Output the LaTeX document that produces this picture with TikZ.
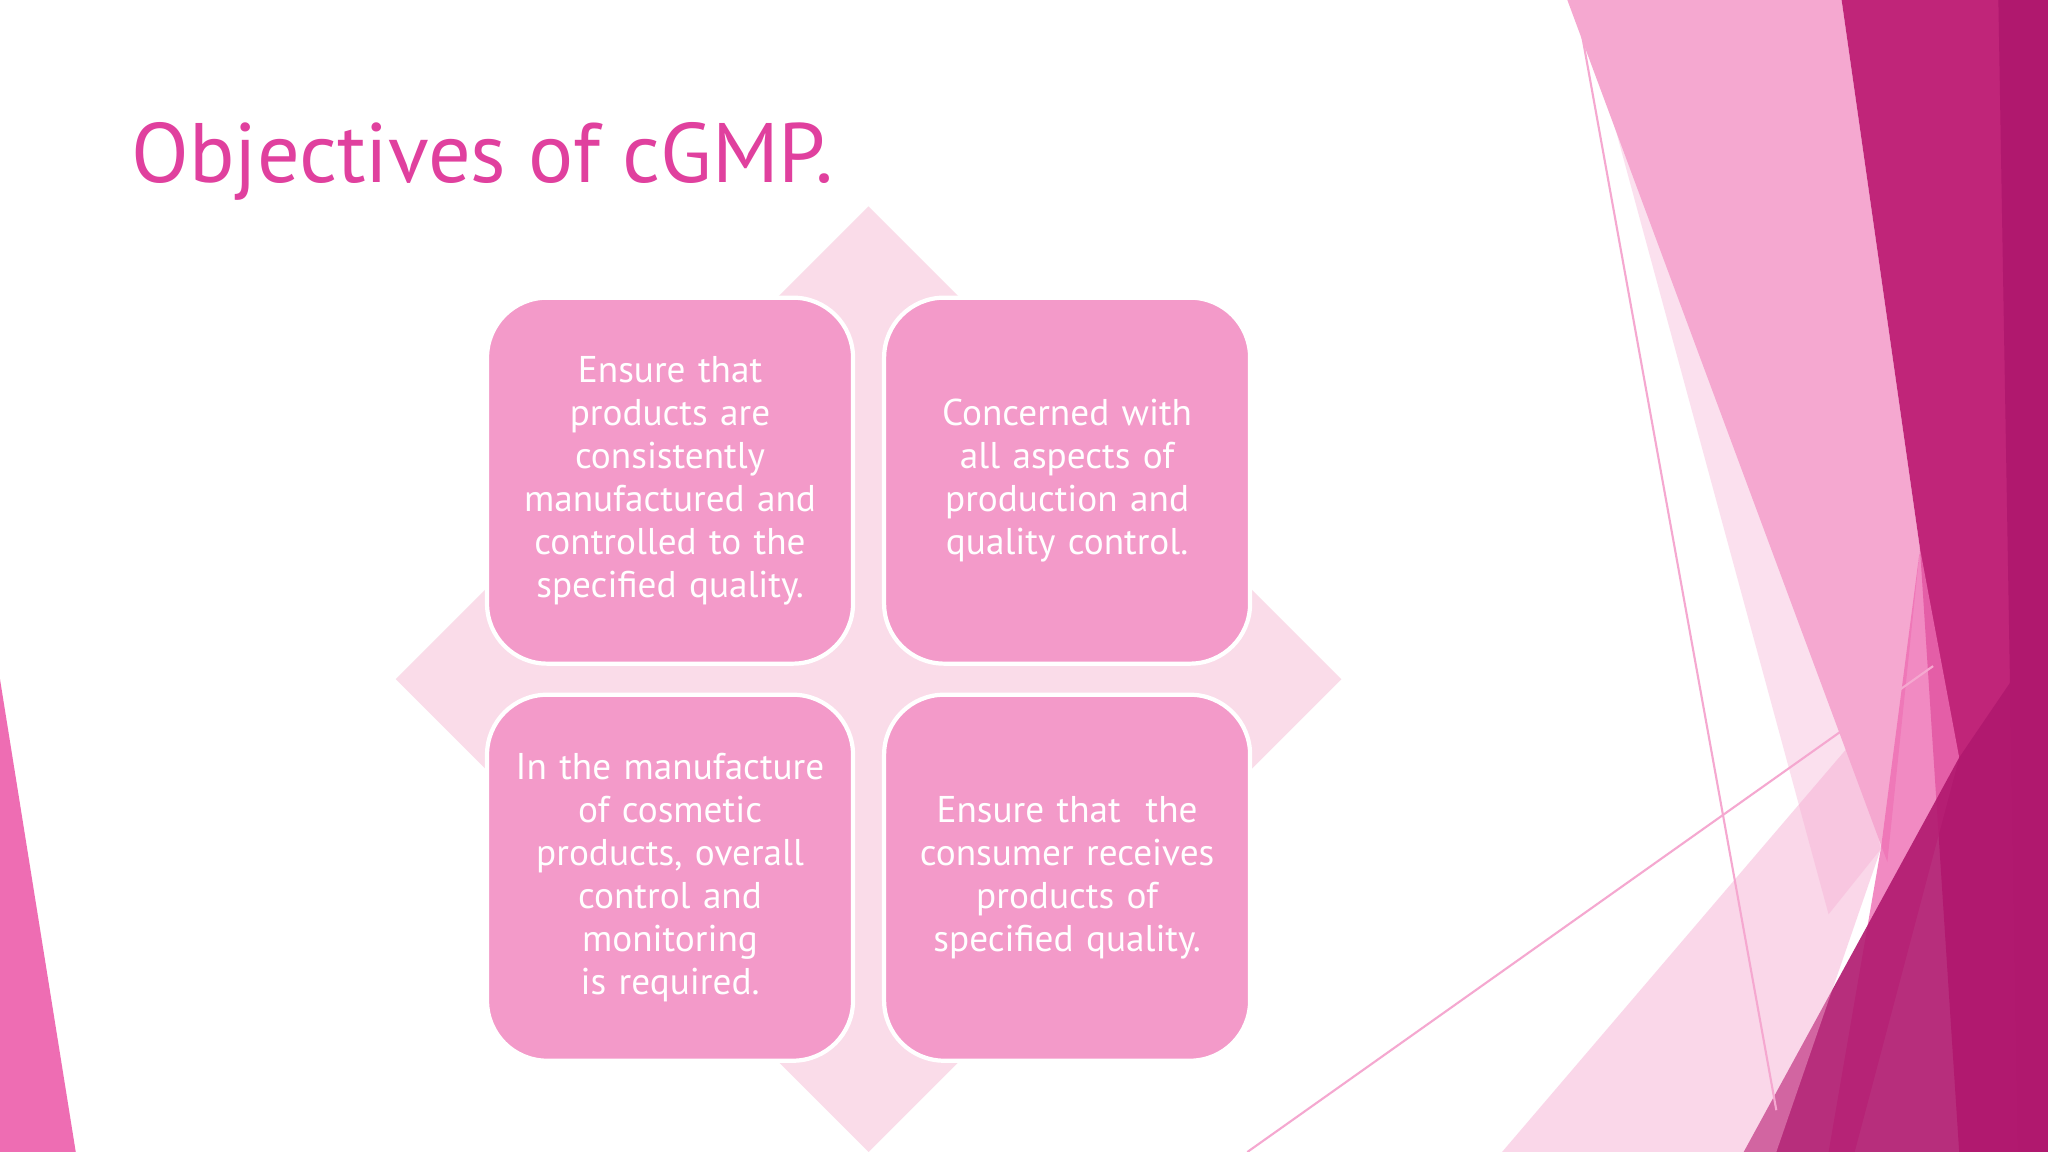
\documentclass[tikz,border=0pt]{standalone}
\usepackage{fontspec}
\setmainfont{PT Sans}
\usetikzlibrary{positioning}
\definecolor{titlepink}{HTML}{E0409E}
\definecolor{boxpink}{HTML}{F39AC9}
\definecolor{diapink}{HTML}{FADCE9}
\definecolor{lightpink}{HTML}{F5A8D0}
\definecolor{midpink}{HTML}{EE6DB3}
\definecolor{darkpink}{HTML}{C02579}
\definecolor{deeppink}{HTML}{B0186E}

\begin{document}
\begin{tikzpicture}[
    x=0.013061cm, y=-0.013061cm,
    objbox/.style={draw=white, line width=1.2pt, fill=boxpink, rounded corners=0.6cm,
        minimum width=3.66cm, minimum height=3.66cm, text width=3.1cm, align=center,
        text=white, font=\fontsize{10.6}{12.2}\selectfont, inner sep=0},
    deco/.style={draw=none}]
\useasboundingbox (0,0) rectangle (1568,882);
\fill[white] (0,0) rectangle (1568,882);

% right side decoration
\fill[lightpink] (1200,0) -- (1410,0) -- (1470,420) -- (1445,660) -- cycle;
\fill[darkpink] (1410,0) -- (1568,0) -- (1568,882) -- (1500,882) -- (1470,420) -- cycle;
\fill[deeppink] (1530,0) -- (1568,0) -- (1568,882) -- (1545,882) -- cycle;
\fill[midpink, opacity=0.8] (1440,650) -- (1470,420) -- (1500,580) -- (1420,882) -- (1400,882) -- cycle;
\fill[deeppink, opacity=0.9] (1500,580) -- (1568,480) -- (1568,882) -- (1335,882) -- cycle;
\fill[lightpink, opacity=0.45] (1150,882) -- (1455,525) -- (1440,650) -- (1360,882) -- cycle;
\fill[lightpink, opacity=0.35] (1210,0) -- (1300,0) -- (1440,650) -- (1400,700) -- cycle;
\draw[lightpink, line width=0.6pt] (1210,20) -- (1360,850);
\draw[lightpink, line width=0.6pt] (955,882) -- (1480,510);
% left decoration
\fill[midpink] (0,520) -- (58,882) -- (0,882) -- cycle;

% title
\node[anchor=base west, text=titlepink, font=\fontsize{24}{28}\selectfont, inner sep=0]
    (title) at (100,140) {Objectives of cGMP.};

% background diamond
\fill[diapink] (665,158) -- (1027,520) -- (665,882) -- (303,520) -- cycle;

% objective boxes
\node[objbox] (tl) at (513,368) {Ensure that products are consistently manufactured and controlled to the specified quality.};
\node[objbox] (tr) at (817,368) {Concerned with all aspects of production and quality control.\\[2.2em]};
\node[objbox] (bl) at (513,672) {In the manufacture of cosmetic products, overall control and monitoring is required.};
\node[objbox] (br) at (817,672) {Ensure that~ the consumer receives products of specified quality.};
\end{tikzpicture}
\end{document}
